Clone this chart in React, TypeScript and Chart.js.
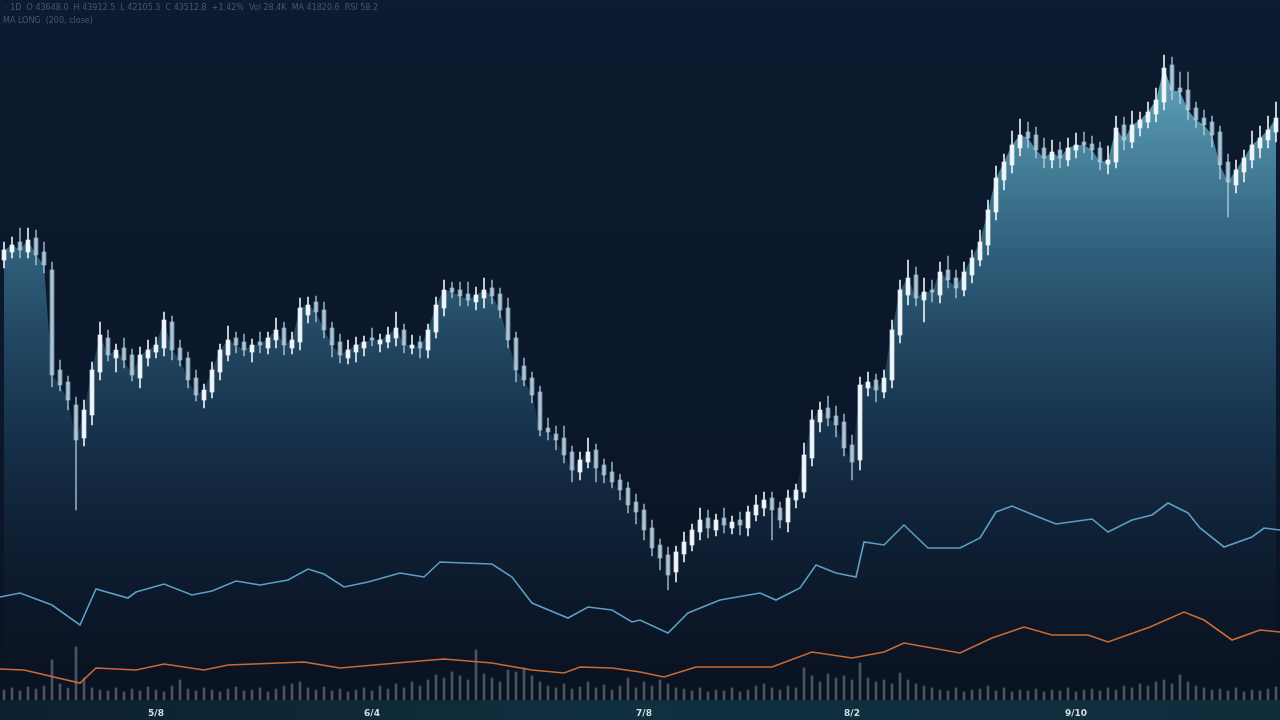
import { useEffect, useRef } from "react";
import { Chart, registerables } from "chart.js";

Chart.register(...registerables);

// ---- Price candles (one per session) ----
const opens = [
  440, 448, 458, 448, 462, 448, 430, 330, 318, 295,
  262, 285, 328, 362, 342, 352, 345, 322, 342, 348,
  352, 378, 352, 342, 322, 300, 308, 328, 345, 362,
  358, 348, 358, 352, 360, 372, 352, 358, 385, 398,
  390, 372, 358, 342, 348, 352, 362, 356, 358, 362,
  370, 352, 358, 350, 368, 392, 412, 410, 406, 398,
  402, 412, 406, 392, 362, 334, 322, 308, 272, 266,
  262, 248, 228, 238, 250, 235, 228, 220, 212, 198,
  190, 172, 155, 145, 128, 146, 155, 168, 182, 170,
  182, 172, 180, 172, 185, 192, 202, 192, 178, 200,
  208, 242, 278, 292, 284, 278, 255, 240, 312, 320,
  308, 320, 365, 405, 425, 400, 410, 405, 430, 422,
  410, 425, 440, 455, 488, 520, 535, 552, 568, 565,
  552, 540, 550, 540, 550, 558, 556, 552, 536, 538,
  575, 558, 572, 578, 586, 598, 635, 612, 610, 592,
  582, 578, 568, 538, 515, 528, 540, 552, 560, 568,
];
const closes = [
  450, 455, 450, 460, 445, 435, 325, 315, 300, 260,
  290, 330, 365, 345, 350, 340, 325, 345, 350, 355,
  380, 350, 340, 320, 305, 310, 330, 350, 360, 355,
  350, 355, 355, 362, 370, 355, 360, 392, 395, 388,
  370, 355, 345, 350, 355, 358, 360, 360, 365, 372,
  355, 355, 352, 370, 395, 410, 408, 404, 400, 405,
  410, 404, 390, 360, 330, 320, 305, 270, 268, 260,
  245, 230, 240, 248, 232, 225, 218, 210, 195, 188,
  170, 152, 142, 125, 148, 158, 170, 180, 172, 180,
  175, 178, 175, 188, 195, 200, 190, 180, 202, 210,
  245, 280, 290, 282, 275, 252, 238, 315, 318, 310,
  322, 370, 410, 422, 402, 408, 408, 428, 420, 412,
  428, 442, 458, 490, 522, 538, 555, 565, 562, 550,
  542, 548, 542, 552, 555, 555, 550, 538, 540, 572,
  560, 575, 580, 588, 600, 632, 610, 608, 590, 580,
  575, 565, 535, 518, 530, 542, 555, 562, 570, 582,
];
const highs = [
  458, 463, 472, 472, 470, 458, 438, 340, 324, 303,
  300, 338, 378, 370, 356, 362, 351, 353, 360, 363,
  388, 384, 360, 348, 330, 316, 338, 356, 374, 368,
  366, 361, 368, 368, 382, 378, 368, 402, 403, 404,
  398, 378, 366, 360, 363, 364, 372, 366, 373, 388,
  376, 365, 364, 376, 403, 420, 418, 418, 418, 413,
  422, 420, 412, 402, 368, 342, 328, 314, 282, 274,
  274, 254, 248, 262, 256, 241, 238, 226, 218, 206,
  196, 180, 161, 153, 154, 168, 176, 192, 190, 186,
  192, 184, 188, 194, 205, 208, 208, 198, 210, 216,
  257, 290, 298, 304, 294, 286, 265, 323, 328, 326,
  330, 380, 420, 440, 433, 422, 420, 438, 444, 430,
  438, 450, 470, 500, 534, 546, 569, 581, 578, 573,
  562, 560, 558, 562, 567, 568, 564, 558, 554, 584,
  583, 589, 588, 598, 612, 645, 643, 628, 628, 598,
  590, 584, 574, 546, 540, 550, 569, 574, 584, 598,
];
const lows = [
  432, 442, 442, 442, 435, 427, 313, 309, 290, 190,
  254, 275, 320, 339, 328, 332, 319, 312, 334, 342,
  344, 340, 334, 312, 299, 292, 302, 320, 339, 347,
  344, 338, 347, 346, 352, 345, 346, 350, 377, 378,
  362, 343, 337, 336, 338, 344, 354, 348, 352, 354,
  347, 346, 342, 342, 362, 384, 402, 394, 394, 390,
  392, 396, 382, 352, 318, 314, 297, 264, 260, 250,
  237, 218, 220, 232, 218, 217, 212, 200, 187, 176,
  160, 144, 130, 110, 118, 138, 149, 160, 162, 164,
  167, 166, 165, 164, 179, 184, 160, 172, 168, 192,
  202, 234, 268, 274, 263, 244, 220, 230, 304, 298,
  302, 312, 357, 395, 394, 378, 398, 397, 412, 402,
  404, 417, 434, 445, 480, 510, 527, 544, 552, 542,
  532, 532, 532, 534, 542, 547, 540, 530, 526, 532,
  550, 552, 564, 572, 578, 590, 600, 596, 580, 572,
  565, 553, 521, 483, 507, 518, 532, 542, 552, 558,
];
const volumes = [
  10, 12, 9, 13, 11, 14, 40, 16, 12, 53,
  22, 12, 10, 9, 12, 8, 11, 9, 13, 10,
  8, 14, 20, 11, 9, 12, 10, 8, 11, 13,
  9, 10, 12, 8, 11, 14, 16, 18, 12, 10,
  13, 9, 11, 8, 10, 12, 9, 14, 11, 16,
  12, 18, 14, 20, 25, 22, 28, 24, 20, 50,
  26, 22, 18, 30, 28, 32, 24, 18, 14, 12,
  16, 11, 13, 18, 12, 15, 10, 14, 22, 12,
  18, 14, 20, 16, 12, 11, 9, 12, 8, 10,
  9, 12, 8, 10, 14, 16, 12, 10, 14, 12,
  32, 24, 18, 26, 22, 24, 20, 37, 22, 18,
  20, 16, 27, 20, 16, 14, 12, 10, 9, 12,
  8, 10, 11, 14, 9, 12, 8, 10, 9, 11,
  8, 10, 9, 12, 8, 10, 11, 9, 12, 10,
  14, 12, 16, 14, 18, 20, 16, 25, 18, 14,
  12, 10, 11, 9, 12, 8, 10, 9, 11, 13,
];

// ---- Indicator lines (session index, value) ----
const blueX = [
  -0.5, 2, 6, 9.5, 11.5, 15.5, 16.5, 20, 23.5, 26, 29, 32, 35.5, 38, 40, 42.5,
  45.5, 49.5, 52.5, 54.5, 57.5, 61, 63.5, 66, 70.5, 73, 76, 78.5, 79.5, 83, 85.5,
  89.5, 94.5, 96.5, 99.5, 101.5, 104, 106.5, 107.5, 110, 112.5, 115.5, 119.5, 122,
  124, 126, 129, 131.5, 136, 138, 141, 143.5, 145.5, 148, 149.5, 152.5, 156, 157.5, 159.5,
];
const blueY = [
  103, 107, 95, 75, 111, 102, 108, 116, 105, 109, 119, 115, 120, 131, 126, 113,
  118, 127, 123, 138, 137, 136, 123, 97, 82, 93, 90, 78, 80, 67, 87,
  100, 107, 100, 112, 135, 127, 123, 158, 155, 175, 152, 152, 162,
  188, 194, 184, 176, 181, 168, 180, 185, 197, 187, 172, 153, 163, 172, 170,
];
const orangeX = [
  -0.5, 2.5, 9.5, 11.5, 16.5, 20, 25, 28, 37.5, 42, 50.5, 55, 61, 66, 70, 72, 76,
  79.5, 82.5, 86.5, 96, 101, 106, 110, 112.5, 119.5, 123.5, 127.5, 131, 135.5, 138,
  143.25, 147.5, 150, 153.5, 157, 159.5,
];
const orangeY = [
  31, 30, 17, 32, 30, 36, 30, 35, 38, 32, 38, 41, 37, 30, 27, 33, 32,
  28, 23, 33, 33, 48, 42, 48, 57, 47, 62, 73, 65, 65, 58,
  73, 88, 80, 60, 70, 68,
];

// ---- Time axis ----
const tickIdx = [19, 46, 80, 106, 134];
const tickLabels = ["5/8", "6/4", "7/8", "8/2", "9/10"];

const headerLine1 = "◦ 1D  O 43648.0  H 43912.5  L 42105.3  C 43512.8  +1.42%  Vol 28.4K  MA 41820.6  RSI 58.2";
const headerLine2 = "MA LONG  (200, close)";

export default function App() {
  const ref = useRef<HTMLCanvasElement | null>(null);

  useEffect(() => {
    if (!ref.current) return;
    const up = "rgba(240,247,251,0.96)";
    const down = "rgba(190,220,236,0.72)";
    const colors = closes.map((c, i) => (c >= opens[i] ? up : down));

    const bgPlugin = {
      id: "bg",
      beforeDraw(chart: any) {
        const { ctx, width, height, chartArea } = chart;
        ctx.save();
        const g = ctx.createLinearGradient(0, 0, 0, height);
        g.addColorStop(0, "#0c1b2f");
        g.addColorStop(0.6, "#0b172a");
        g.addColorStop(1, "#0a1220");
        ctx.fillStyle = g;
        ctx.fillRect(0, 0, width, height);
        if (chartArea) {
          const h = ctx.createLinearGradient(0, 0, width, 0);
          h.addColorStop(0, "#0c2030");
          h.addColorStop(0.5, "#10303f");
          h.addColorStop(1, "#0f2c3b");
          ctx.fillStyle = h;
          ctx.fillRect(0, chartArea.bottom, width, height - chartArea.bottom);
        }
        ctx.restore();
      },
    };

    const areaFill = (c: any) => {
      const chart = c.chart;
      const { ctx, chartArea } = chart;
      if (!chartArea) return "rgba(60,120,150,0.5)";
      const g = ctx.createLinearGradient(0, chartArea.top, 0, chartArea.bottom);
      g.addColorStop(0, "rgba(125,195,215,0.95)");
      g.addColorStop(0.12, "rgba(100,172,196,0.9)");
      g.addColorStop(0.35, "rgba(60,118,148,0.78)");
      g.addColorStop(0.6, "rgba(32,70,100,0.62)");
      g.addColorStop(0.85, "rgba(15,34,56,0.35)");
      g.addColorStop(1, "rgba(10,20,34,0)");
      return g;
    };

    const chart = new Chart(ref.current, {
      type: "bar",
      data: {
        datasets: [
          {
            type: "line",
            label: "area",
            data: closes.map((c, i) => ({ x: i, y: c })),
            fill: "start",
            backgroundColor: areaFill,
            borderWidth: 0,
            pointRadius: 0,
            yAxisID: "y",
            order: 10,
          } as any,
          {
            type: "bar",
            label: "volume",
            data: volumes.map((v, i) => ({ x: i, y: v })),
            backgroundColor: "rgba(175,190,205,0.38)",
            barThickness: 2,
            grouped: false,
            yAxisID: "yv",
            order: 9,
          } as any,
          {
            type: "line",
            label: "blue",
            data: blueX.map((x, i) => ({ x, y: blueY[i] })),
            borderColor: "#5c9ec4",
            borderWidth: 1.6,
            pointRadius: 0,
            tension: 0,
            fill: false,
            yAxisID: "yi",
            order: 5,
          } as any,
          {
            type: "line",
            label: "orange",
            data: orangeX.map((x, i) => ({ x, y: orangeY[i] })),
            borderColor: "#c96b36",
            borderWidth: 1.6,
            pointRadius: 0,
            tension: 0,
            fill: false,
            yAxisID: "yi",
            order: 4,
          } as any,
          {
            type: "bar",
            label: "wick",
            data: lows.map((l, i) => ({ x: i, y: [l, highs[i]] })),
            backgroundColor: colors,
            barThickness: 1,
            grouped: false,
            yAxisID: "y",
            order: 2,
          } as any,
          {
            type: "bar",
            label: "body",
            data: opens.map((o, i) => ({ x: i, y: [o, closes[i]] })),
            backgroundColor: colors,
            barThickness: 4,
            grouped: false,
            yAxisID: "y",
            order: 1,
          } as any,
        ],
      },
      options: {
        responsive: false,
        animation: false,
        layout: { padding: 0 },
        plugins: { legend: { display: false }, tooltip: { enabled: false }, title: { display: false } },
        scales: {
          x: {
            type: "linear",
            min: -0.5,
            max: 159.5,
            offset: false,
            bounds: "data",
            grid: { display: false, drawTicks: false, offset: false },
            border: { display: false },
            afterBuildTicks: (s: any) => {
              s.ticks = tickIdx.map((v) => ({ value: v }));
            },
            afterFit: (s: any) => {
              s.height = 20;
            },
            ticks: {
              autoSkip: false,
              maxRotation: 0,
              padding: 8,
              color: "#d3dde6",
              font: { family: "DejaVu Sans", size: 9, weight: "bold" },
              callback: (v: any) => {
                const k = tickIdx.indexOf(Number(v));
                return k >= 0 ? tickLabels[k] : "";
              },
            },
          },
          y: { display: false, min: 0, max: 700 },
          yv: { display: false, min: 0, max: 700 },
          yi: { display: false, min: 0, max: 700 },
        },
      } as any,
      plugins: [bgPlugin],
    });
    return () => chart.destroy();
  }, []);

  return (
    <div style={{ position: "fixed", left: 0, top: 0, width: 1280, height: 720, background: "#0b172a" }}>
      <canvas ref={ref} width={1280} height={720} style={{ display: "block" }} />
      <div
        style={{
          position: "absolute",
          left: 3,
          top: 1,
          fontFamily: "DejaVu Sans",
          fontSize: 8,
          lineHeight: "13px",
          color: "rgba(120,150,180,0.5)",
          whiteSpace: "pre",
        }}
      >
        <div>{headerLine1}</div>
        <div>{headerLine2}</div>
      </div>
    </div>
  );
}
